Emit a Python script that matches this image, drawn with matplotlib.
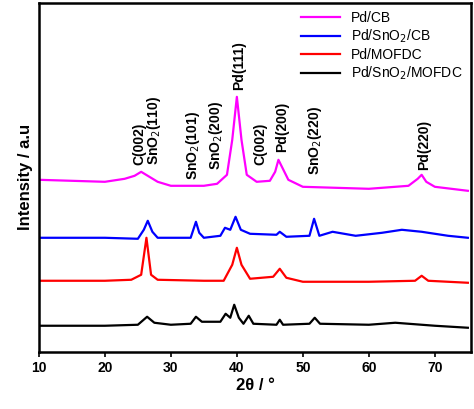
import matplotlib
matplotlib.use("Agg")
import matplotlib.pyplot as plt

plt.rcParams['font.family'] = ['Liberation Sans', 'DejaVu Sans']

# key points: 2theta and curve height (picture units, larger = lower)
cb_x = [10, 15, 20, 23, 24.5, 25.5, 26.5, 28, 30, 35, 37, 38.5, 39.3, 40, 40.7, 41.5, 43, 45, 45.8, 46.3, 46.9, 47.8, 50, 55, 60, 66, 67.4, 68, 68.7, 70, 75]
cb_y = [180, 181, 182, 179, 176, 172, 176, 182, 186, 186, 184, 175, 140, 97, 140, 175, 182, 181, 172, 160, 168, 180, 187, 188, 189, 186, 179, 175, 182, 187, 191]
sncb_x = [10, 20, 25, 25.9, 26.5, 27.2, 28, 33, 33.4, 33.8, 34.3, 35, 37.5, 38.2, 39, 39.8, 40.6, 42, 46, 46.5, 47.5, 51, 51.7, 52.5, 54.5, 58, 62, 65, 68, 72, 75]
sncb_y = [238, 238, 239, 230, 221, 232, 238, 238, 230, 222, 233, 238, 236, 228, 230, 217, 230, 234, 235, 232, 237, 236, 219, 236, 232, 236, 233, 230, 232, 236, 238]
mof_x = [10, 20, 24, 25.5, 26.3, 27.0, 28, 35, 38, 39.3, 40, 40.7, 42, 45.5, 46.5, 47.5, 50, 60, 67, 68, 69, 75]
mof_y = [281, 281, 280, 275, 238, 275, 280, 281, 281, 265, 248, 265, 279, 277, 269, 278, 282, 282, 281, 276, 281, 283]
snmof_x = [10, 20, 25, 26.4, 27.5, 30, 33, 33.8, 34.7, 37.5, 38.3, 39, 39.6, 40.3, 41, 41.8, 42.5, 46, 46.5, 47, 51, 51.8, 52.6, 60, 64, 70, 75]
snmof_y = [326, 326, 325, 317, 323, 325, 324, 317, 322, 322, 314, 318, 305, 318, 324, 316, 324, 325, 320, 325, 324, 318, 324, 325, 323, 326, 328]

# peak labels: (2theta, text, bottom of text in picture units)
peak_labels = [
    (25.2, 'C(002)', 165), (27.5, 'SnO$_2$(110)', 165),
    (33.3, 'SnO$_2$(101)', 180), (36.9, 'SnO$_2$(200)', 170),
    (40.4, 'Pd(111)', 90), (43.5, 'C(002)', 165),
    (46.8, 'Pd(200)', 152), (51.9, 'SnO$_2$(220)', 175),
    (68.3, 'Pd(220)', 170),
]

fig = plt.figure(figsize=(4.74, 4.09), dpi=100)
ax = fig.add_axes([0.082, 0.14, 0.912, 0.853])

ax.plot(cb_x, cb_y, color='#ff00ff', lw=1.6, label='Pd/CB')
ax.plot(sncb_x, sncb_y, color='#0000ff', lw=1.6, label='Pd/SnO$_2$/CB')
ax.plot(mof_x, mof_y, color='#ff0000', lw=1.6, label='Pd/MOFDC')
ax.plot(snmof_x, snmof_y, color='black', lw=1.6, label='Pd/SnO$_2$/MOFDC')

for x, txt, yb in peak_labels:
    ax.text(x, yb, txt, rotation=90, ha='center', va='bottom', fontsize=10, fontweight='bold')

ax.set_xlim(10, 75.5)
ax.set_ylim(352, 3)
ax.set_yticks([])
ax.set_xticks([10, 20, 30, 40, 50, 60, 70])
ax.tick_params(axis='x', labelsize=10, width=1.2, direction='out')
for lb in ax.get_xticklabels():
    lb.set_fontweight('bold')
for s in ax.spines.values():
    s.set_linewidth(1.8)
ax.set_xlabel('2θ / °', fontsize=12, fontweight='bold', labelpad=2)
ax.set_ylabel('Intensity / a.u', fontsize=12, fontweight='bold', labelpad=4)

ax.legend(loc='upper right', frameon=False, fontsize=10, handlelength=2.8,
          labelspacing=0.2, borderaxespad=0.2)

fig.savefig('out.png', dpi=100)
